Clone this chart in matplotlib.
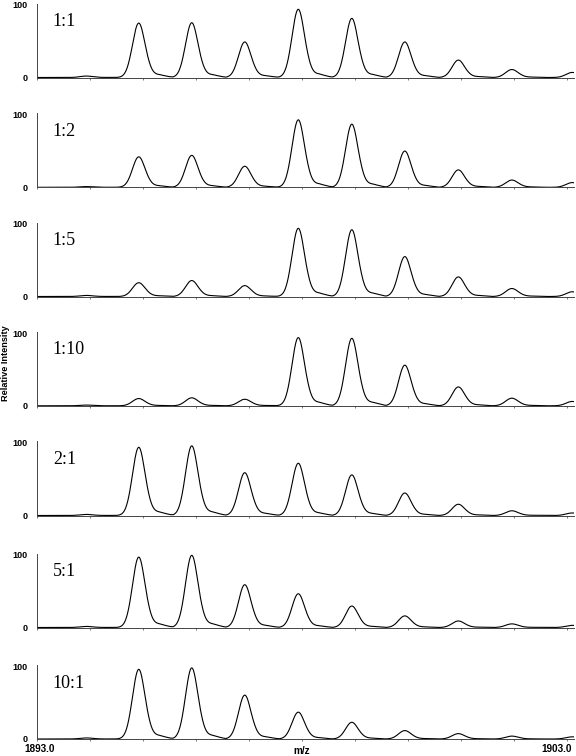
import numpy as np
import matplotlib
matplotlib.use("Agg")
import matplotlib.pyplot as plt
from matplotlib.transforms import ScaledTranslation

# ---- data ----
ratios = ["1:1", "1:2", "1:5", "1:10", "2:1", "5:1", "10:1"]
peak_centers = [1893.93, 1894.92, 1895.92, 1896.92, 1897.93, 1898.94,
                1899.94, 1900.95, 1901.96, 1903.10]
h_1_1 = [2.0, 75, 75.5, 49, 94, 81.5, 49, 24, 11, 7]
h_1_2 = [1.0, 42, 44, 29, 93, 87, 50, 24, 10, 6.5]
h_1_5 = [1.5, 19, 22, 15, 94, 92, 55, 27, 11, 6.5]
h_1_10 = [1.0, 10, 11, 9, 94, 93, 56, 26, 10.5, 6]
h_2_1 = [1.5, 94, 96, 59, 72, 56, 31, 15.5, 6.5, 3.5]
h_5_1 = [1.5, 97, 99.5, 59, 46.5, 29.6, 16, 9, 5, 3]
h_10_1 = [1.5, 96, 98, 60.5, 37, 23, 11.6, 7.4, 4, 3]
heights = [h_1_1, h_1_2, h_1_5, h_1_10, h_2_1, h_5_1, h_10_1]
x_tick_labels = ["1893.0", "1903.0"]
x_label = "m/z"
y_label = "Relative Intensity"
x_min = 1893.0

# ---- peak profile (instrument line shape) ----
SIGMA = 0.118
TAIL = 0.05


def profile(x, c, h):
    g = np.exp(-0.5 * ((x - c) / SIGMA) ** 2)
    rise = 0.5 * (1 + np.tanh((x - c - 0.15) / 0.05))
    fall = np.clip((c + 0.65 - x) / 0.25, 0, 1)
    return h * (g + TAIL * rise * fall)


W, H = 576, 756
fig = plt.figure(figsize=(W / 100, H / 100), dpi=100)

left_px, right_px = 37, 574
unit_px = 53.0
xlim_right = x_min + (right_px - left_px) / unit_px
baselines_px = [77.5, 187.3, 296.5, 405.8, 515.5, 627.5, 739]
axis_h_px = 74.0  # covers 0..102

x = np.linspace(x_min, xlim_right, 3000)
axc = "#444444"
sans = "Liberation Sans"

for i, (lab, hs) in enumerate(zip(ratios, heights)):
    b = baselines_px[i]
    ax = fig.add_axes([left_px / W, 1 - b / H, (right_px - left_px) / W, axis_h_px / H])
    y = np.zeros_like(x)
    for c, h in zip(peak_centers, hs):
        y += profile(x, c, h)
    ax.plot(x, y, color="black", lw=0.8)
    ax.set_xlim(x_min, xlim_right)
    ax.set_ylim(0, 102)
    for s in ["top", "right"]:
        ax.spines[s].set_visible(False)
    for s in ["left", "bottom"]:
        ax.spines[s].set_color(axc)
        ax.spines[s].set_linewidth(0.7)
    ax.set_yticks([0, 100])
    ax.set_yticklabels(["0", "100"], fontsize=6.5, fontweight="bold", family=sans)
    ax.tick_params(axis="y", length=0, pad=7.0)
    ax.set_xticks(np.arange(1893, 1904, 1))
    ax.tick_params(axis="x", length=1.6, width=0.5, color=axc, direction="out")
    if i == len(ratios) - 1:
        labels = [""] * 11
        labels[0] = x_tick_labels[0]
        labels[-1] = x_tick_labels[1]
        ax.set_xticklabels(labels, fontsize=7.2, fontweight="bold", family=sans)
        ax.tick_params(axis="x", pad=2.2)
        tl = ax.get_xticklabels()
        tl[0].set_transform(tl[0].get_transform() +
                            ScaledTranslation(3 / 100, 0, fig.dpi_scale_trans))
        tl[-1].set_transform(tl[-1].get_transform() +
                             ScaledTranslation(-10 / 100, 0, fig.dpi_scale_trans))
        ax.set_xlabel(x_label, fontsize=7.2, fontweight="bold", family=sans)
        ax.xaxis.label.set_va("center")
        ax.xaxis.set_label_coords((1898.0 - x_min) / (xlim_right - x_min), -0.165)
    else:
        ax.set_xticklabels([])
    ax.text(1893.3, 77, lab, family="Liberation Serif", fontsize=13,
            ha="left", va="center")

fig.text(6 / W, 1 - 363 / H, y_label, rotation=90, ha="center",
         va="center", fontsize=6.6, fontweight="bold", family=sans)

fig.savefig("out.png", dpi=100)
